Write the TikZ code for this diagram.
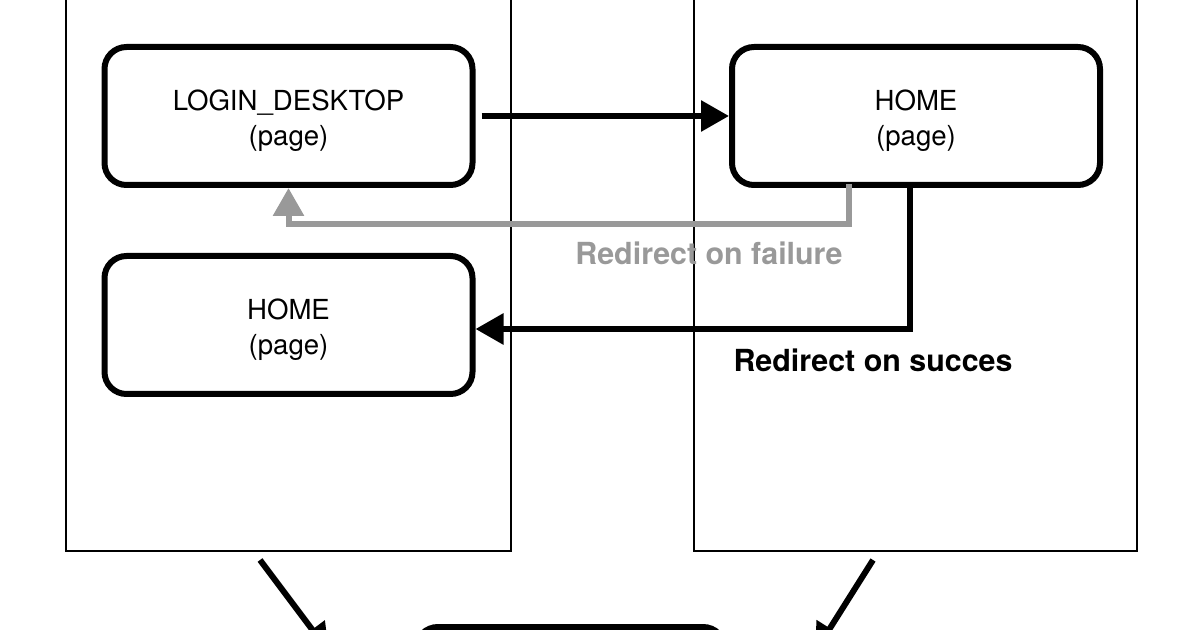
\documentclass[tikz,border=0pt]{standalone}
\usepackage{fontspec}
\setmainfont{TeX Gyre Heros}
\usetikzlibrary{arrows.meta,positioning}
\newcommand{\pgtop}{\rule{0pt}{15pt}}
\tikzset{
  page/.style={draw, line width=3pt, rounded corners=11pt, minimum width=184pt,
    minimum height=69pt, align=center, font=\fontsize{13.8}{17.2}\selectfont},
  panel/.style={draw, line width=0.6pt},
  flow/.style={line width=3pt, -{Triangle[length=14pt,width=15pt]}},
  fail/.style={flow, draw=failgray},
  lbl/.style={font=\bfseries\fontsize{15.2}{18}\selectfont}
}
\definecolor{failgray}{HTML}{999999}
\begin{document}
\begin{tikzpicture}[x=0.5pt,y=-0.5pt]
  \useasboundingbox (0,0) rectangle (1200,630);
  \clip (0,0) rectangle (1200,630);
  % the two screens
  \draw[panel] (66,-20) rectangle (511,551);
  \draw[panel] (694,-20) rectangle (1137,551);
  % pages
  \node[page] (login) at (288.5,116) {\pgtop LOGIN\_DESKTOP\\(page)};
  \node[page] (homeR) at (916,116) {\pgtop HOME\\(page)};
  \node[page] (homeL) at (288.5,325) {\pgtop HOME\\(page)};
  \node[page, minimum width=154.5pt] (next) at (570.5,696) {};
  % redirects
  \draw[flow] ([xshift=3pt]login.east) -- (homeR.west);
  \draw[fail] ([xshift=-33.5pt,yshift=2pt]homeR.south) -- ++(0,-20pt) -| (login.south);
  \draw[flow] ([xshift=-3pt,yshift=2pt]homeR.south) |- ([yshift=-2pt]homeL.east);
  \node[lbl, text=failgray] (failtxt) at (709,253) {Redirect on failure};
  \node[lbl] (oktxt) at (873,360) {Redirect on succes};
  % down to the next step
  \coordinate (fromL) at (260,560);
  \coordinate (toL) at (329,652);
  \coordinate (fromR) at (873,560);
  \coordinate (toR) at (815,652);
  \draw[flow] (fromL) -- (toL);
  \draw[flow] (fromR) -- (toR);
\end{tikzpicture}
\end{document}
